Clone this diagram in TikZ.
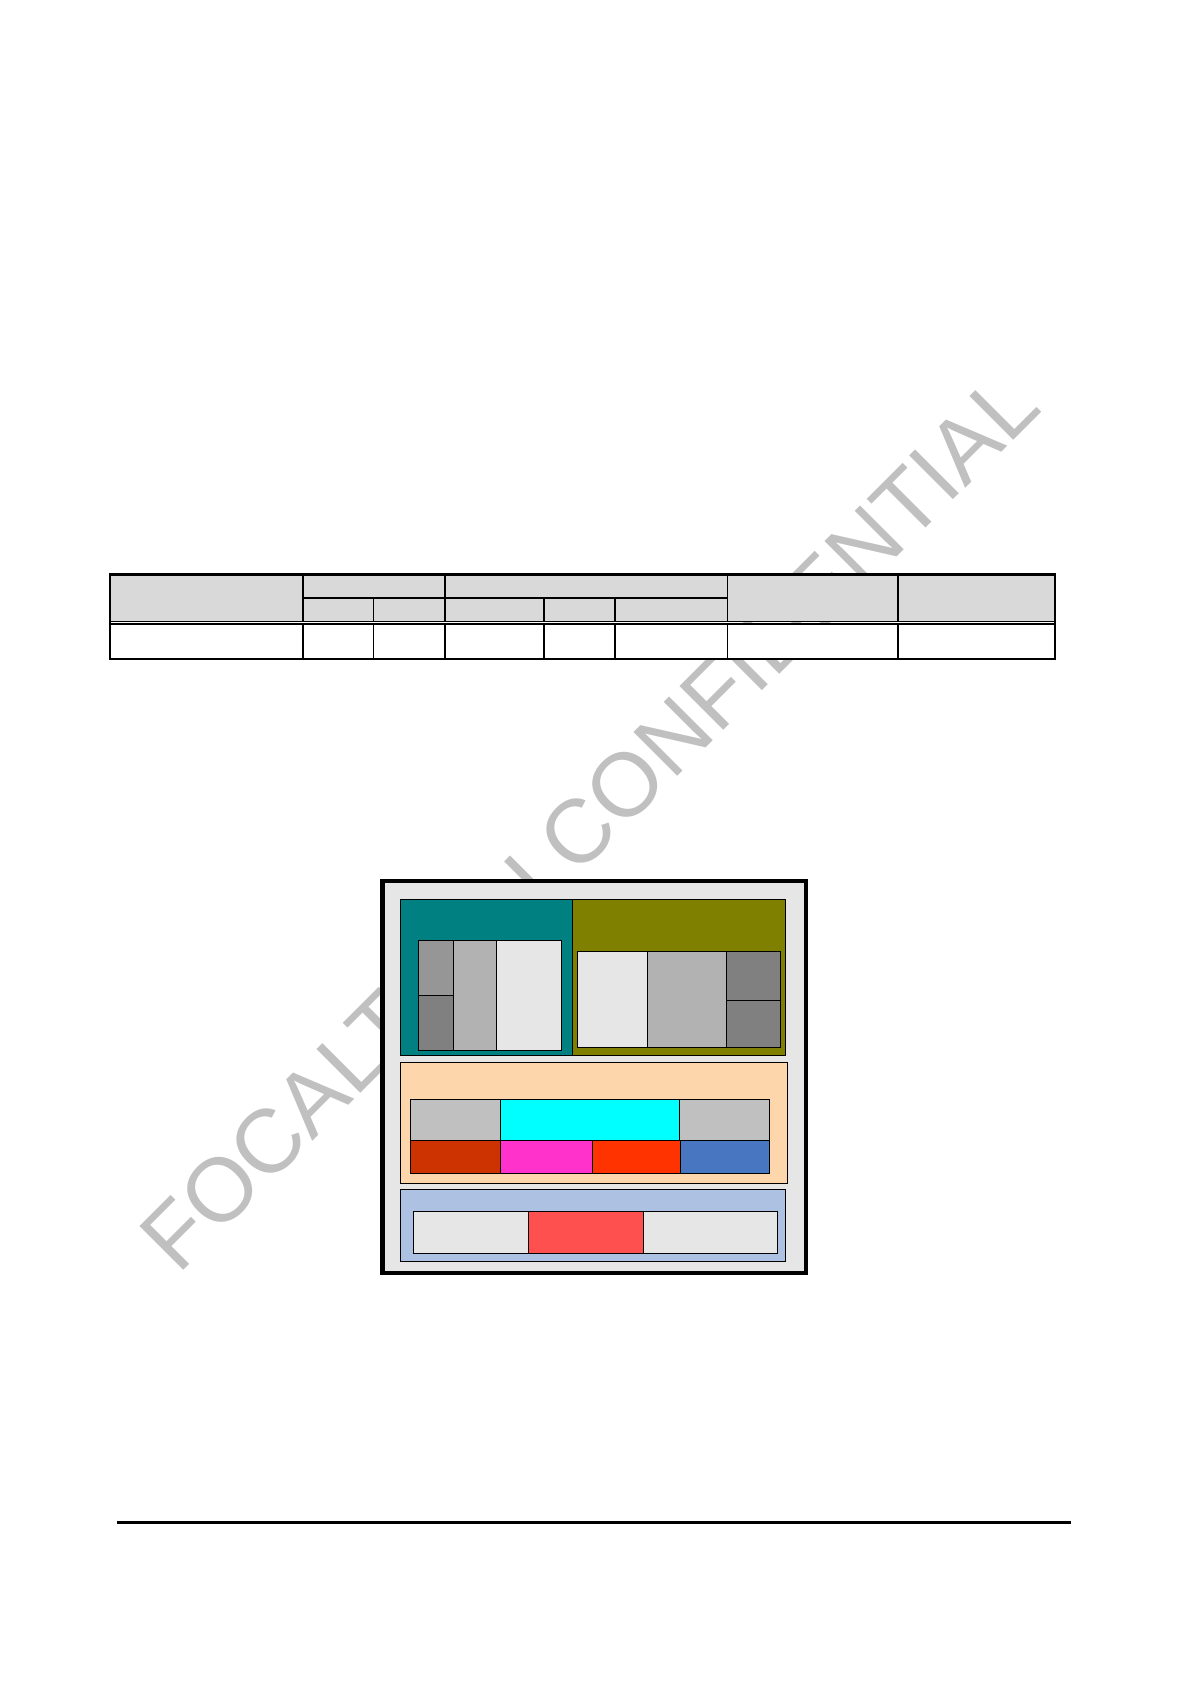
\documentclass[tikz,border=0pt]{standalone}
\usepackage{fontspec}
\setmainfont{Liberation Sans}
\definecolor{wmgray}{RGB}{192,192,192}
\definecolor{hdrgray}{RGB}{217,217,217}
\definecolor{cE6}{RGB}{230,230,230}
\definecolor{c96}{RGB}{150,150,150}
\definecolor{c80}{RGB}{128,128,128}
\definecolor{cB2}{RGB}{178,178,178}
\definecolor{cC0}{RGB}{192,192,192}
\definecolor{cteal}{RGB}{0,128,128}
\definecolor{colive}{RGB}{128,128,0}
\definecolor{cpeach}{RGB}{253,214,172}
\definecolor{clblue}{RGB}{173,194,227}
\definecolor{ccyan}{RGB}{0,255,255}
\definecolor{cbrick}{RGB}{204,51,0}
\definecolor{cmag}{RGB}{255,51,204}
\definecolor{corange}{RGB}{255,51,0}
\definecolor{cblue}{RGB}{72,118,193}
\definecolor{csalmon}{RGB}{255,80,80}
\newcommand\tcell[6]{\node[#6, minimum width={(#4-#2)*0.5pt}, minimum height={(#5-#3)*0.5pt}] (#1) at ({(#2+#4)/2},{(#3+#5)/2}) {};}
\begin{document}
\begin{tikzpicture}[x=0.5pt,y=-0.5pt,
  cellb/.style={rectangle, inner sep=0pt, outer sep=0pt, draw=black, line width=0.5pt},
  tcellb/.style={rectangle, inner sep=0pt, outer sep=0pt, draw=black, line width=0.65pt},
  hdr/.style={tcellb, fill=hdrgray},
  dat/.style={tcellb, fill=white},
  wmark/.style={rotate=45, text=wmgray, inner sep=0pt, font=\fontsize{45}{54}\selectfont}]
\useasboundingbox (0,0) rectangle (1192,1685);
\fill[white] (0,0) rectangle (1192,1685);
% watermark
\node[wmark] (wm) at (589,821) {FOCALTECH CONFIDENTIAL};
% table header
\tcell{h1}{110}{574.5}{303}{621.5}{hdr}
\tcell{h2}{303}{574.5}{445}{598}{hdr}
\tcell{h3}{445}{574.5}{727.5}{598}{hdr}
\tcell{h2a}{303}{598}{373.5}{621.5}{hdr}
\tcell{h2b}{373.5}{598}{445}{621.5}{hdr}
\tcell{h3a}{445}{598}{544}{621.5}{hdr}
\tcell{h3b}{544}{598}{615}{621.5}{hdr}
\tcell{h3c}{615}{598}{727.5}{621.5}{hdr}
\tcell{h4}{727.5}{574.5}{898}{621.5}{hdr}
\tcell{h5}{898}{574.5}{1055}{621.5}{hdr}
% table data row
\tcell{d1}{110}{624}{303}{659}{dat}
\tcell{d2}{303}{624}{373.5}{659}{dat}
\tcell{d3}{373.5}{624}{445}{659}{dat}
\tcell{d4}{445}{624}{544}{659}{dat}
\tcell{d5}{544}{624}{615}{659}{dat}
\tcell{d6}{615}{624}{727.5}{659}{dat}
\tcell{d7}{727.5}{624}{898}{659}{dat}
\tcell{d8}{898}{624}{1055}{659}{dat}
\draw[line width=1.4pt] (h1.north west) rectangle (d8.south east);
% block diagram
\tcell{chip}{382.5}{881}{806}{1273}{cellb, fill=cE6, line width=2.2pt}
\tcell{teal}{400}{899.3}{572.3}{1055}{cellb, fill=cteal}
\tcell{olive}{572.3}{899.3}{785.7}{1055}{cellb, fill=colive}
\tcell{t1a}{418.3}{940}{453.3}{995.3}{cellb, fill=c96}
\tcell{t1b}{418.3}{995.3}{453.3}{1050.3}{cellb, fill=c80}
\tcell{t2}{453.3}{940}{496.7}{1050.3}{cellb, fill=cB2}
\tcell{t3}{496.7}{940}{561.7}{1050.3}{cellb, fill=cE6}
\tcell{o1}{577.3}{951}{647.3}{1047.3}{cellb, fill=cE6}
\tcell{o2}{647.3}{951}{726.7}{1047.3}{cellb, fill=cB2}
\tcell{o3a}{726.7}{951}{780.7}{1000.3}{cellb, fill=c80}
\tcell{o3b}{726.7}{1000.3}{780.7}{1047.3}{cellb, fill=c80}
\tcell{peach}{400}{1062.3}{787.7}{1183.3}{cellb, fill=cpeach}
\tcell{p1}{410}{1099.3}{500.7}{1140}{cellb, fill=cC0}
\tcell{p2}{500.7}{1099.3}{679.3}{1140}{cellb, fill=ccyan}
\tcell{p3}{679.3}{1099.3}{769.3}{1140}{cellb, fill=cC0}
\tcell{q1}{410}{1140}{500.7}{1173.3}{cellb, fill=cbrick}
\tcell{q2}{500.7}{1140}{592.3}{1173.3}{cellb, fill=cmag}
\tcell{q3}{592.3}{1140}{680}{1173.3}{cellb, fill=corange}
\tcell{q4}{680}{1140}{769.3}{1173.3}{cellb, fill=cblue}
\tcell{lb}{400}{1189.3}{785.7}{1261}{cellb, fill=clblue}
\tcell{b1}{413.3}{1211.7}{528.3}{1253.3}{cellb, fill=cE6}
\tcell{b2}{528.3}{1211.7}{643.3}{1253.3}{cellb, fill=csalmon}
\tcell{b3}{643.3}{1211.7}{777.3}{1253.3}{cellb, fill=cE6}
% footer rule
\coordinate (fl) at (117,1522);
\coordinate (fr) at (1071,1522);
\draw[line width=1.5pt] (fl) -- (fr);
\end{tikzpicture}
\end{document}
